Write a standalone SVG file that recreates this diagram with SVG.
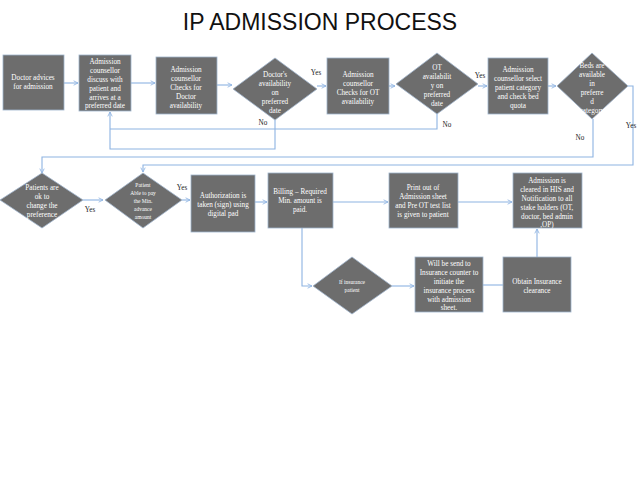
<svg xmlns="http://www.w3.org/2000/svg" width="638" height="478" viewBox="0 0 638 478">
<defs>
<marker id="ah" viewBox="0 0 10 10" refX="9" refY="5" markerWidth="5" markerHeight="5" orient="auto"><path d="M1,1 L9,5 L1,9" fill="none" stroke="#8db3e2" stroke-width="1.5"/></marker>
<style>
.n{fill:#6d6d6d;stroke:#9fb4cc;stroke-width:0.8}
.t{font-family:"Liberation Serif",serif;font-size:7.2px;fill:#fff;text-anchor:middle}
.s{font-size:5.5px}
.l{font-family:"Liberation Serif",serif;font-size:7.2px;fill:#222;text-anchor:middle}
.c{fill:none;stroke:#8db3e2;stroke-width:1.1}
.a{marker-end:url(#ah)}
</style>
</defs>
<rect width="638" height="478" fill="#fff"/>
<text x="320" y="30" font-family="'Liberation Sans',sans-serif" font-size="23" text-anchor="middle" fill="#111">IP ADMISSION PROCESS</text>
<g id="connectors">
<path class="c a" d="M64,83 H78"/>
<path class="c a" d="M131,83 H155"/>
<path class="c a" d="M217,85 H232"/>
<path class="c a" d="M317,86 H326"/>
<path class="c a" d="M389,86 H395"/>
<path class="c a" d="M478,86 H487"/>
<path class="c a" d="M548,86 H556"/>
<path class="c a" d="M275,120 V149 H110 V112"/>
<path class="c" d="M437,113 V129 H110"/>
<path class="c a" d="M593,119 V157 H42 V173"/>
<path class="c a" d="M628,86 H633 V165 H143 V172"/>
<path class="c a" d="M83,200 H103"/>
<path class="c a" d="M182,200 H190"/>
<path class="c a" d="M255,202 H267"/>
<path class="c a" d="M333,202 H388"/>
<path class="c a" d="M458,202 H512"/>
<path class="c a" d="M302,228 V286 H312"/>
<path class="c a" d="M392,286 H414"/>
<path class="c" d="M483,285 H503"/>
<path class="c a" d="M537,257 V229"/>
</g>
<g id="labels">
<text class="l" x="316" y="75">Yes</text>
<text class="l" x="263" y="125">No</text>
<text class="l" x="447" y="127">No</text>
<text class="l" x="480" y="78">Yes</text>
<text class="l" x="580" y="140">No</text>
<text class="l" x="631" y="128">Yes</text>
<text class="l" x="90" y="212">Yes</text>
<text class="l" x="182" y="190">Yes</text>
</g>
<g id="n1"><rect class="n" x="3" y="55" width="61" height="55"/><text class="t" x="33" y="80">Doctor advices</text><text class="t" x="33" y="89">for admission</text></g>
<g id="n2"><rect class="n" x="79" y="55" width="52" height="56"/><text class="t" x="105" y="64">Admission</text><text class="t" x="105" y="73">counsellor</text><text class="t" x="105" y="82">discuss with</text><text class="t" x="105" y="91">patient and</text><text class="t" x="105" y="100">arrives at a</text><text class="t" x="105" y="108">preferred date</text></g>
<g id="n3"><rect class="n" x="156" y="57" width="61" height="57"/><text class="t" x="186" y="72">Admission</text><text class="t" x="186" y="81">counsellor</text><text class="t" x="186" y="90">Checks for</text><text class="t" x="186" y="99">Doctor</text><text class="t" x="186" y="108">availability</text></g>
<g id="n4"><polygon class="n" points="275,58 317,89 275,120 233,89"/><text class="t" x="275" y="77">Doctor's</text><text class="t" x="275" y="86">availability</text><text class="t" x="275" y="95">on</text><text class="t" x="275" y="104">preferred</text><text class="t" x="275" y="113">date</text></g>
<g id="n5"><rect class="n" x="327" y="58" width="62" height="56"/><text class="t" x="358" y="77">Admission</text><text class="t" x="358" y="86">counsellor</text><text class="t" x="358" y="95">Checks for OT</text><text class="t" x="358" y="104">availability</text></g>
<g id="n6"><polygon class="n" points="437,53 478,84 437,114 396,84"/><text class="t" x="437" y="70">OT</text><text class="t" x="437" y="79">availabilit</text><text class="t" x="437" y="88">y on</text><text class="t" x="437" y="97">preferred</text><text class="t" x="437" y="106">date</text></g>
<g id="n7"><rect class="n" x="488" y="58" width="60" height="56"/><text class="t" x="518" y="72">Admission</text><text class="t" x="518" y="81">counsellor select</text><text class="t" x="518" y="90">patient category</text><text class="t" x="518" y="99">and check bed</text><text class="t" x="518" y="108">quota</text></g>
<g id="n8"><polygon class="n" points="592,53 628,86 592,119 557,86"/><text class="t" x="592" y="68">Beds are</text><text class="t" x="592" y="77">available</text><text class="t" x="592" y="86">in</text><text class="t" x="592" y="95">preferre</text><text class="t" x="592" y="104">d</text><text class="t" x="592" y="113">category</text></g>
<g id="n9"><polygon class="n" points="42,173 83,200 42,228 0,200"/><text class="t" x="42" y="190">Patients are</text><text class="t" x="42" y="199">ok to</text><text class="t" x="42" y="208">change the</text><text class="t" x="42" y="217">preference</text></g>
<g id="n10"><polygon class="n" points="143,173 182,200 143,228 105,200"/><text class="t s" x="143" y="187">Patient</text><text class="t s" x="143" y="195">Able to pay</text><text class="t s" x="143" y="203">the Min.</text><text class="t s" x="143" y="211">advance</text><text class="t s" x="143" y="219">amount</text></g>
<g id="n11"><rect class="n" x="191" y="175" width="64" height="57"/><text class="t" x="223" y="198">Authorization is</text><text class="t" x="223" y="207">taken (sign) using</text><text class="t" x="223" y="216">digital pad</text></g>
<g id="n12"><rect class="n" x="268" y="173" width="65" height="55"/><text class="t" x="300" y="194">Billing – Required</text><text class="t" x="300" y="203">Min. amount is</text><text class="t" x="300" y="212">paid.</text></g>
<g id="n13"><rect class="n" x="389" y="173" width="69" height="55"/><text class="t" x="423" y="190">Print out of</text><text class="t" x="423" y="199">Admission  sheet</text><text class="t" x="423" y="208">and Pre OT test list</text><text class="t" x="423" y="217">is given to patient</text></g>
<g id="n14"><rect class="n" x="513" y="173" width="69" height="55"/><text class="t" x="547" y="183">Admission is</text><text class="t" x="547" y="192">cleared in HIS and</text><text class="t" x="547" y="201">Notification to all</text><text class="t" x="547" y="210">stake holders (OT,</text><text class="t" x="547" y="219">doctor, bed admin</text><text class="t" x="547" y="227">,OP)</text></g>
<g id="n15"><polygon class="n" points="352,257 392,286 352,314 313,286"/><text class="t s" x="352" y="284">If insurance</text><text class="t s" x="352" y="292">patient</text></g>
<g id="n16"><rect class="n" x="415" y="257" width="68" height="55"/><text class="t" x="449" y="266">Will be send to</text><text class="t" x="449" y="275">Insurance counter to</text><text class="t" x="449" y="284">initiate  the</text><text class="t" x="449" y="293">insurance process</text><text class="t" x="449" y="302">with admission</text><text class="t" x="449" y="310">sheet.</text></g>
<g id="n17"><rect class="n" x="503" y="257" width="68" height="55"/><text class="t" x="537" y="284">Obtain Insurance</text><text class="t" x="537" y="293">clearance</text></g>
</svg>
